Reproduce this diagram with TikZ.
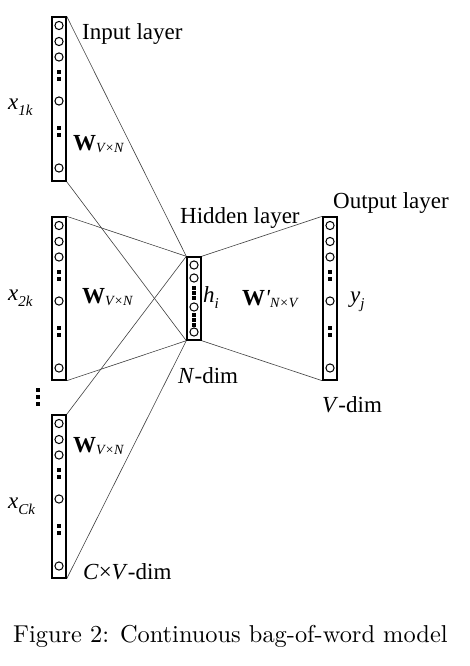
\documentclass[tikz,border=0pt]{standalone}
\usepackage{fontspec}
\newfontfamily\tnr{Liberation Serif}
\newfontfamily\lmten{lmroman10-regular.otf}
\begin{document}
\begin{tikzpicture}[x=1pt,y=-1pt,
  layerbox/.style={draw, line width=1.4, rectangle, inner sep=0pt, minimum width=14, fill=white},
  unit/.style={line width=1},
  conn/.style={line width=0.6, draw=black!75},
  lbl/.style={anchor=base west, inner sep=0pt, font=\tnr\fontsize{23}{27}\selectfont},
  capstyle/.style={anchor=base west, inner sep=0pt, font=\lmten\fontsize{24.4}{28}\selectfont}]
\useasboundingbox (0,0) rectangle (469,666);
\newcommand\subsc[1]{\raisebox{-6pt}{\fontsize{15}{15}\selectfont\itshape #1}}
\newcommand\wsub[1]{\raisebox{-2pt}{\fontsize{14}{14}\selectfont\itshape #1}}
\newcommand\vcol[2]{%
  \foreach \d in {8.5,24.5,40,84,151} \draw[unit] (#1,#2+\d) circle (4.1);
  \foreach \d in {55,62,111,118} \fill (#1-1.6,#2+\d-1.6) rectangle ++(3.2,3.2);}
\newcommand\hcol[2]{%
  \foreach \d in {8,21,50,75} \draw[unit] (#1,#2+\d) circle (4.1);
  \foreach \d in {31,36,41,58,63,68} \fill (#1-1.6,#2+\d-1.6) rectangle ++(3.2,3.2);}
% boxes
\node[layerbox, minimum height=164] (in1) at (59,99) {};
\node[layerbox, minimum height=163] (in2) at (59,298.5) {};
\node[layerbox, minimum height=163] (in3) at (59,496.5) {};
\node[layerbox, minimum height=83] (hid) at (194,298.5) {};
\node[layerbox, minimum height=163] (out) at (330,298.5) {};
% connectors
\draw[conn] (in1.north east) -- (hid.north west);
\draw[conn] (in1.south east) -- (hid.south west);
\draw[conn] (in2.north east) -- (hid.north west);
\draw[conn] (in2.south east) -- (hid.south west);
\draw[conn] (in3.north east) -- (hid.north west);
\draw[conn] (in3.south east) -- (hid.south west);
\draw[conn] (hid.north east) -- (out.north west);
\draw[conn] (hid.south east) -- (out.south west);
% redraw boxes on top
\node[layerbox, minimum height=164] at (in1) {};
\node[layerbox, minimum height=163] at (in2) {};
\node[layerbox, minimum height=163] at (in3) {};
\node[layerbox, minimum height=83] at (hid) {};
\node[layerbox, minimum height=163] at (out) {};
% units
\vcol{59}{17}
\vcol{59}{217}
\vcol{59}{415}
\vcol{330}{217}
\hcol{194}{257}
% vertical dots between inputs
\foreach \d in {390,397,404} \fill (38-1.6,\d-1.6) rectangle ++(3.2,3.2);
% labels
\node[lbl] (tin) at (82,40) {Input layer};
\node[lbl] (thid) at (180,223) {Hidden layer};
\node[lbl] (tout) at (333,208) {Output layer};
\node[lbl] (x1) at (8,110) {\textit{x}\subsc{1k}};
\node[lbl] (x2) at (8,300) {\textit{x}\subsc{2k}};
\node[lbl] (xc) at (8,508) {\textit{x}\subsc{Ck}};
\node[lbl] (w1) at (73,150) {\textbf{W}\wsub{V×N}};
\node[lbl] (w2) at (82,303) {\textbf{W}\wsub{V×N}};
\node[lbl] (w3) at (73,452) {\textbf{W}\wsub{V×N}};
\node[lbl] (wp) at (242,305) {\textbf{W}{\itshape\textquotesingle}\wsub{N×V}};
\node[lbl] (hi) at (203,302) {\textit{h}\subsc{i}};
\node[lbl] (yj) at (350,302) {\textit{y}\subsc{j}};
\node[lbl] (nd) at (178,383) {\textit{N}-dim};
\node[lbl] (vd) at (322,412) {\textit{V}-dim};
\node[lbl] (cvd) at (83,579) {\textit{C}×\textit{V}-dim};
\node[capstyle] (caption) at (13,642) {Figure 2: Continuous bag-of-word model};
\end{tikzpicture}
\end{document}
